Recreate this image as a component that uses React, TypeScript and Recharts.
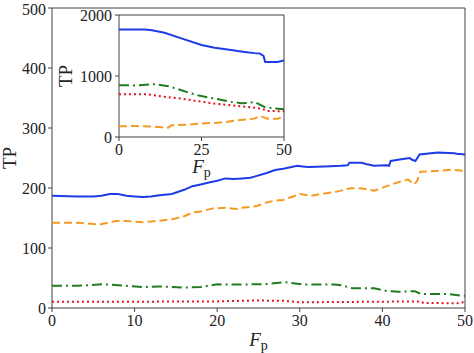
import React from 'react';
import { LineChart, Line, XAxis, YAxis, ReferenceArea } from 'recharts';

type Pt = [number, number];

const mainXTicks = [0, 10, 20, 30, 40, 50];
const mainYTicks = [0, 100, 200, 300, 400, 500];
const insetXTicks = [0, 25, 50];
const insetYTicks = [0, 1000, 2000];

const mainBlue: Pt[] = [
  [0, 187], [3, 186], [5, 186], [6, 187], [7, 190], [8, 190], [9, 187], [10, 186], [11, 185],
  [12, 186], [13, 188], [14.5, 190], [16, 197], [17, 203], [18, 206], [19, 209], [20, 212],
  [21, 216], [22, 215], [23, 216], [24, 217], [24.5, 219], [26, 225], [27, 230], [28, 232],
  [29.7, 237], [30.3, 236], [31, 235], [33, 236], [35, 237], [35.8, 238], [36, 242], [37.5, 242],
  [38, 240], [39, 237], [40.5, 238], [40.8, 237], [41, 245], [42.3, 248], [43.3, 250], [43.6, 247],
  [44, 245], [44.5, 256], [46.7, 259], [48.7, 258], [49, 257], [50, 256],
];
const mainOrange: Pt[] = [
  [0, 142], [3, 142], [5, 140], [5.8, 139], [7, 143], [7.8, 145], [9, 145], [11, 143], [12, 144],
  [14.6, 148], [16, 153], [17, 159], [18, 161], [19.5, 166], [21, 167], [22.4, 165], [23, 167],
  [24.8, 170], [26, 176], [27, 179], [28, 180], [30, 190], [31.3, 187], [33, 191], [34.5, 194],
  [36.1, 199.5], [37.4, 199.5], [38, 198], [39, 195.5], [40.7, 204], [42, 210], [43.1, 214],
  [43.9, 206], [44.2, 212], [44.6, 227], [47, 229], [48.3, 230.5], [49.5, 229], [50, 227],
];
const mainGreen: Pt[] = [
  [0, 37], [3, 37], [6.2, 39.5], [8, 38], [11, 35], [13, 36], [15.8, 34], [18, 35], [20, 39.5],
  [22, 39], [24.8, 39.5], [26, 40], [28.2, 43], [30.6, 39], [32, 39], [34.2, 39], [35, 38],
  [36.3, 33], [39, 33], [40.6, 28], [42, 27], [43.9, 28], [44.7, 23.3], [47.9, 23.3], [49.7, 20.5],
  [50, 20],
];
const mainRed: Pt[] = [
  [0, 10.5], [10, 10.5], [20, 11], [24.5, 12.5], [28, 12], [30, 9.5], [35, 10], [40, 10.5],
  [44.5, 11], [45, 8.3], [49, 8], [50, 10],
];

const insetBlue: Pt[] = [
  [0, 1764], [8, 1764], [10, 1750], [13.8, 1710], [18.9, 1617], [25, 1507], [29, 1463], [34, 1425],
  [38, 1395], [41.1, 1375], [42.6, 1370], [43.8, 1330], [44.3, 1230], [48, 1228], [50, 1255],
];
const insetGreen: Pt[] = [
  [0, 849], [5, 845], [10.8, 866], [13, 850], [14.9, 833], [18.9, 767], [21, 730], [23.9, 685],
  [27, 650], [29, 630], [34, 575], [37, 555], [39, 559], [41, 575], [44.1, 493], [47, 470], [50, 455],
];
const insetRed: Pt[] = [
  [0, 701], [8.8, 701], [13.8, 658], [18.9, 630], [23.9, 586], [29, 548], [34, 520], [39, 493],
  [43, 466], [45.1, 427], [50, 422],
];
const insetOrange: Pt[] = [
  [0, 175], [5, 180], [10, 170], [11.8, 164], [14.9, 153], [15.9, 192], [18, 195], [22, 208],
  [26, 225], [29, 230], [33, 250], [36, 274], [39, 290], [41, 301], [42.6, 340], [43.5, 330],
  [45.1, 301], [48.2, 301], [50, 340],
];

const toData = (pts: Pt[]) => pts.map(([x, y]) => ({ x, y }));

const FONT = "'Liberation Serif', 'DejaVu Serif', serif";
const TEXT = '#222';
const FRAME = '#404040';
const BLUE = '#1c3ce6';
const ORANGE = '#f59b23';
const GREEN = '#1f7d1f';
const RED = '#e8141e';

const textStyle: React.CSSProperties = { fontFamily: FONT };

const XTick = (props: any) => {
  const { x, y, payload } = props;
  return (
    <text x={x} y={y + 12} textAnchor="middle" fontSize={16} fill={TEXT} style={textStyle}>
      {payload.value}
    </text>
  );
};

const YTick = (props: any) => {
  const { x, y, payload } = props;
  return (
    <text x={x} y={y + 5.5} textAnchor="end" fontSize={16} fill={TEXT} style={textStyle}>
      {payload.value}
    </text>
  );
};

const XLabel = (dy: number) => (props: any) => {
  const vb = props.viewBox || {};
  const cx = vb.x + vb.width / 2;
  return (
    <text x={cx} y={vb.y + dy} textAnchor="middle" fontSize={19} fill={TEXT} style={textStyle}>
      <tspan fontStyle="italic">F</tspan>
      <tspan fontSize={14} dy={4}>p</tspan>
    </text>
  );
};

const YLabel = (dx: number) => (props: any) => {
  const vb = props.viewBox || {};
  const x = vb.x + dx;
  const y = vb.y + vb.height / 2;
  return (
    <text x={x} y={y} transform={`rotate(-90, ${x}, ${y})`} textAnchor="middle" fontSize={19} fill={TEXT} style={textStyle}>
      TP
    </text>
  );
};

const lineProps = { type: 'linear' as const, dataKey: 'y', dot: false, isAnimationActive: false, strokeWidth: 2 };

export default function App() {
  return (
    <div style={{ position: 'absolute', left: 0, top: 0, width: 474, height: 353, background: '#fff' }}>
      <div style={{ position: 'absolute', left: 0, top: 0 }}>
        <LineChart width={474} height={353} margin={{ top: 8, right: 9, bottom: 0, left: 0 }}>
          <XAxis
            type="number"
            dataKey="x"
            domain={[0, 50]}
            ticks={mainXTicks}
            allowDataOverflow
            axisLine={false}
            tickLine={{ stroke: FRAME }}
            tickSize={4}
            tick={<XTick />}
            height={45}
            label={{ content: XLabel(38) } as any}
          />
          <YAxis
            type="number"
            domain={[0, 500]}
            ticks={mainYTicks}
            allowDataOverflow
            axisLine={false}
            tickLine={{ stroke: FRAME }}
            tickSize={4}
            tick={<YTick />}
            width={52}
            label={{ content: YLabel(16) } as any}
          />
          <ReferenceArea x1={0} x2={50} y1={0} y2={500} fill="none" stroke={FRAME} strokeWidth={1} ifOverflow="visible" />
          <Line {...lineProps} data={toData(mainRed)} stroke={RED} strokeDasharray="2 3" />
          <Line {...lineProps} data={toData(mainGreen)} stroke={GREEN} strokeDasharray="10 4 2 4" />
          <Line {...lineProps} data={toData(mainOrange)} stroke={ORANGE} strokeDasharray="8 4" />
          <Line {...lineProps} data={toData(mainBlue)} stroke={BLUE} />
        </LineChart>
      </div>
      <div style={{ position: 'absolute', left: 0, top: 0 }}>
        <LineChart width={474} height={353} margin={{ top: 15, right: 190, bottom: 0, left: 59 }}>
          <XAxis
            type="number"
            dataKey="x"
            domain={[0, 50]}
            ticks={insetXTicks}
            allowDataOverflow
            axisLine={false}
            tickLine={{ stroke: FRAME }}
            tickSize={4}
            tick={<XTick />}
            height={216}
            label={{ content: XLabel(36) } as any}
          />
          <YAxis
            type="number"
            domain={[0, 2000]}
            ticks={insetYTicks}
            allowDataOverflow
            axisLine={false}
            tickLine={{ stroke: FRAME }}
            tickSize={4}
            tickMargin={3}
            tick={<YTick />}
            width={60}
            label={{ content: YLabel(13) } as any}
          />
          <ReferenceArea x1={0} x2={50} y1={0} y2={2000} fill="#fff" fillOpacity={0} stroke={FRAME} strokeWidth={1} ifOverflow="visible" />
          <Line {...lineProps} data={toData(insetRed)} stroke={RED} strokeDasharray="2 3" />
          <Line {...lineProps} data={toData(insetGreen)} stroke={GREEN} strokeDasharray="10 4 2 4" />
          <Line {...lineProps} data={toData(insetOrange)} stroke={ORANGE} strokeDasharray="8 4" />
          <Line {...lineProps} data={toData(insetBlue)} stroke={BLUE} />
        </LineChart>
      </div>
    </div>
  );
}
